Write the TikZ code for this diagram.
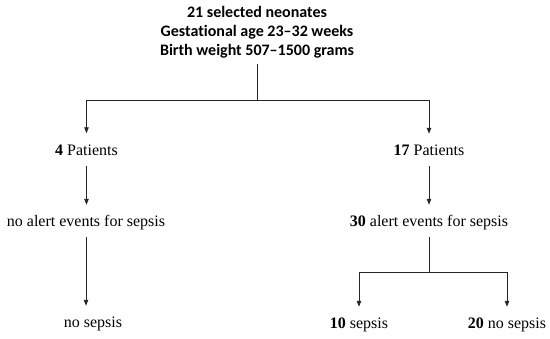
\documentclass[tikz,border=0pt]{standalone}
\usepackage{fontspec}
\setmainfont{Liberation Serif}
\newfontfamily\carlito[Ligatures={NoCommon}]{Carlito}
\usetikzlibrary{arrows.meta}
\tikzset{
  box/.style={inner xsep=0pt, inner ysep=6pt, text height=12pt, text depth=4pt, anchor=base, font=\rmfamily\fontsize{16}{19}\selectfont},
  link/.style={line width=0.9pt, black!85},
  pfeil/.style={link, ->, shorten >=4pt},
}
\begin{document}
\begin{tikzpicture}[x=1pt, y=-1pt, >={Triangle[length=6pt,width=4.5pt]}]
        \useasboundingbox (0,0) rectangle (550,339);
        % Kopf
        \node[align=center, inner sep=0pt, anchor=north, font=\carlito\bfseries\fontsize{16}{19}\selectfont] (title) at (257,6) {21 selected neonates\\Gestational age 23–32 weeks\\Birth weight 507–1500 grams};
        \coordinate (split) at (257,100);
        \draw[link, shorten <=6pt] (title.south) -- (split);

        % linker Zweig
        \node[box] (p4) at (86.5,155.5) {\textbf{4} Patients};
        \node[box] (noalert) at (86,227) {no alert events for sepsis};
        \node[box] (nosep) at (93,328) {no sepsis};
        \draw[pfeil] (split) -| (p4);
        \draw[pfeil] (p4.south) -- (p4.south |- noalert.north);
        \draw[pfeil] (noalert.south) -- (noalert.south |- nosep.north);

        % rechter Zweig
        \node[box] (p17) at (429,156) {\textbf{17} Patients};
        \node[box] (alert30) at (429,227) {\textbf{30} alert events for sepsis};
        \coordinate (split2) at (429,272);
        \node[box] (sep10) at (359,329) {\textbf{10} sepsis};
        \node[box] (nosep20) at (507,329) {\textbf{20} no sepsis};
        \draw[pfeil] (split) -| (p17);
        \draw[pfeil] (p17) -- (alert30);
        \draw[link] (alert30) -- (split2);
        \draw[pfeil] (split2) -| (sep10);
        \draw[pfeil] (split2) -| (nosep20);
\end{tikzpicture}
\end{document}
